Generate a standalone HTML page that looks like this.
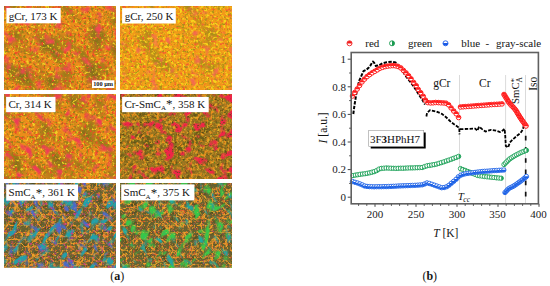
<!DOCTYPE html>
<html><head><meta charset="utf-8"><style>
html,body{margin:0;padding:0;background:#fff;}
body{width:550px;height:286px;position:relative;overflow:hidden;font-family:"Liberation Serif",serif;}
.chart{position:absolute;left:0;top:0;}
.pn{position:absolute;overflow:hidden;}
.lb{position:absolute;background:#fff;color:#222;font-size:10.5px;line-height:15px;padding:0 2px;white-space:nowrap;}
.t{position:absolute;white-space:nowrap;color:#222;}
</style></head><body>
<svg class="pn" style="left:4px;top:5.6px" width="112.3" height="84.2"><defs><filter id="f0_0" filterUnits="userSpaceOnUse" x="-100" y="-100" width="320" height="300" color-interpolation-filters="sRGB"><feTurbulence type="fractalNoise" baseFrequency="0.07 0.04" numOctaves="2" seed="3"/><feColorMatrix values="0 0 0 0 0.525 0 0 0 0 0.439 0 0 0 0 0.102 3.5 0 0 0 -1.610"/></filter><filter id="f0_1" filterUnits="userSpaceOnUse" x="-100" y="-100" width="320" height="300" color-interpolation-filters="sRGB"><feTurbulence type="fractalNoise" baseFrequency="0.35" numOctaves="2" seed="4"/><feColorMatrix values="0 0 0 0 0.949 0 0 0 0 0.816 0 0 0 0 0.141 0 5.0 0 0 -2.700"/></filter><filter id="f0_2" filterUnits="userSpaceOnUse" x="-100" y="-100" width="320" height="300" color-interpolation-filters="sRGB"><feTurbulence type="fractalNoise" baseFrequency="0.35" numOctaves="2" seed="5"/><feColorMatrix values="0 0 0 0 0.941 0 0 0 0 0.267 0 0 0 0 0.157 0 0 5.0 0 -2.800"/></filter><filter id="f0_3" filterUnits="userSpaceOnUse" x="-100" y="-100" width="320" height="300" color-interpolation-filters="sRGB"><feTurbulence type="fractalNoise" baseFrequency="0.4" numOctaves="2" seed="6"/><feColorMatrix values="0 0 0 0 0.604 0 0 0 0 0.502 0 0 0 0 0.094 5.0 0 0 0 -2.600"/></filter><filter id="f0_4" filterUnits="userSpaceOnUse" x="-100" y="-100" width="320" height="300" color-interpolation-filters="sRGB"><feTurbulence type="fractalNoise" baseFrequency="0.1" numOctaves="2" seed="7"/><feColorMatrix values="0 0 0 0 0.941 0 0 0 0 0.282 0 0 0 0 0.314 0 0 4.5 0 -2.610"/></filter></defs><rect width="100%" height="100%" fill="#ec8c1a"/><rect x="-100" y="-100" width="320" height="300" filter="url(#f0_0)" transform="rotate(-45 56 42)"/><rect width="100%" height="100%" filter="url(#f0_1)"/><rect width="100%" height="100%" filter="url(#f0_2)"/><rect width="100%" height="100%" filter="url(#f0_3)"/><rect width="100%" height="100%" filter="url(#f0_4)"/></svg><svg class="pn" style="left:120px;top:5.6px" width="112" height="84.2"><defs><filter id="f1_0" filterUnits="userSpaceOnUse" x="-100" y="-100" width="320" height="300" color-interpolation-filters="sRGB"><feTurbulence type="fractalNoise" baseFrequency="0.07 0.04" numOctaves="2" seed="13"/><feColorMatrix values="0 0 0 0 0.627 0 0 0 0 0.533 0 0 0 0 0.094 3.5 0 0 0 -1.820"/></filter><filter id="f1_1" filterUnits="userSpaceOnUse" x="-100" y="-100" width="320" height="300" color-interpolation-filters="sRGB"><feTurbulence type="fractalNoise" baseFrequency="0.35" numOctaves="2" seed="14"/><feColorMatrix values="0 0 0 0 0.965 0 0 0 0 0.831 0 0 0 0 0.110 0 5.0 0 0 -2.500"/></filter><filter id="f1_2" filterUnits="userSpaceOnUse" x="-100" y="-100" width="320" height="300" color-interpolation-filters="sRGB"><feTurbulence type="fractalNoise" baseFrequency="0.35" numOctaves="2" seed="15"/><feColorMatrix values="0 0 0 0 0.957 0 0 0 0 0.353 0 0 0 0 0.188 0 0 5.0 0 -2.900"/></filter><filter id="f1_3" filterUnits="userSpaceOnUse" x="-100" y="-100" width="320" height="300" color-interpolation-filters="sRGB"><feTurbulence type="fractalNoise" baseFrequency="0.4" numOctaves="2" seed="16"/><feColorMatrix values="0 0 0 0 0.659 0 0 0 0 0.565 0 0 0 0 0.094 5.0 0 0 0 -2.800"/></filter><filter id="f1_4" filterUnits="userSpaceOnUse" x="-100" y="-100" width="320" height="300" color-interpolation-filters="sRGB"><feTurbulence type="fractalNoise" baseFrequency="0.1" numOctaves="2" seed="17"/><feColorMatrix values="0 0 0 0 0.957 0 0 0 0 0.416 0 0 0 0 0.314 0 0 4.5 0 -2.700"/></filter></defs><rect width="100%" height="100%" fill="#f29a18"/><rect x="-100" y="-100" width="320" height="300" filter="url(#f1_0)" transform="rotate(-45 56 42)"/><rect width="100%" height="100%" filter="url(#f1_1)"/><rect width="100%" height="100%" filter="url(#f1_2)"/><rect width="100%" height="100%" filter="url(#f1_3)"/><rect width="100%" height="100%" filter="url(#f1_4)"/></svg><svg class="pn" style="left:4px;top:94px" width="112.3" height="85"><defs><filter id="f2_0" filterUnits="userSpaceOnUse" x="-100" y="-100" width="320" height="300" color-interpolation-filters="sRGB"><feTurbulence type="fractalNoise" baseFrequency="0.07 0.04" numOctaves="2" seed="23"/><feColorMatrix values="0 0 0 0 0.525 0 0 0 0 0.439 0 0 0 0 0.102 3.5 0 0 0 -1.645"/></filter><filter id="f2_1" filterUnits="userSpaceOnUse" x="-100" y="-100" width="320" height="300" color-interpolation-filters="sRGB"><feTurbulence type="fractalNoise" baseFrequency="0.35" numOctaves="2" seed="24"/><feColorMatrix values="0 0 0 0 0.949 0 0 0 0 0.816 0 0 0 0 0.141 0 5.0 0 0 -2.700"/></filter><filter id="f2_2" filterUnits="userSpaceOnUse" x="-100" y="-100" width="320" height="300" color-interpolation-filters="sRGB"><feTurbulence type="fractalNoise" baseFrequency="0.35" numOctaves="2" seed="25"/><feColorMatrix values="0 0 0 0 0.941 0 0 0 0 0.267 0 0 0 0 0.157 0 0 5.0 0 -2.800"/></filter><filter id="f2_3" filterUnits="userSpaceOnUse" x="-100" y="-100" width="320" height="300" color-interpolation-filters="sRGB"><feTurbulence type="fractalNoise" baseFrequency="0.4" numOctaves="2" seed="26"/><feColorMatrix values="0 0 0 0 0.604 0 0 0 0 0.502 0 0 0 0 0.094 5.0 0 0 0 -2.600"/></filter><filter id="f2_4" filterUnits="userSpaceOnUse" x="-100" y="-100" width="320" height="300" color-interpolation-filters="sRGB"><feTurbulence type="fractalNoise" baseFrequency="0.1" numOctaves="2" seed="27"/><feColorMatrix values="0 0 0 0 0.941 0 0 0 0 0.227 0 0 0 0 0.345 0 0 4.5 0 -2.565"/></filter></defs><rect width="100%" height="100%" fill="#ec8c1a"/><rect x="-100" y="-100" width="320" height="300" filter="url(#f2_0)" transform="rotate(-45 56 42)"/><rect width="100%" height="100%" filter="url(#f2_1)"/><rect width="100%" height="100%" filter="url(#f2_2)"/><rect width="100%" height="100%" filter="url(#f2_3)"/><rect width="100%" height="100%" filter="url(#f2_4)"/></svg><svg class="pn" style="left:120px;top:94px" width="112" height="85"><defs><filter id="f3_0" filterUnits="userSpaceOnUse" x="-100" y="-100" width="320" height="300" color-interpolation-filters="sRGB"><feTurbulence type="fractalNoise" baseFrequency="0.09 0.05" numOctaves="2" seed="33"/><feColorMatrix values="0 0 0 0 0.416 0 0 0 0 0.361 0 0 0 0 0.094 4.0 0 0 0 -1.920"/></filter><filter id="f3_1" filterUnits="userSpaceOnUse" x="-100" y="-100" width="320" height="300" color-interpolation-filters="sRGB"><feTurbulence type="fractalNoise" baseFrequency="0.3" numOctaves="2" seed="38"/><feColorMatrix values="0 0 0 0 0.925 0 0 0 0 0.565 0 0 0 0 0.110 0 0 4.0 0 -1.880"/></filter><filter id="f3_2" filterUnits="userSpaceOnUse" x="-100" y="-100" width="320" height="300" color-interpolation-filters="sRGB"><feTurbulence type="fractalNoise" baseFrequency="0.4" numOctaves="2" seed="34"/><feColorMatrix values="0 0 0 0 0.878 0 0 0 0 0.722 0 0 0 0 0.173 0 4.0 0 0 -2.200"/></filter><filter id="f3_3" filterUnits="userSpaceOnUse" x="-100" y="-100" width="320" height="300" color-interpolation-filters="sRGB"><feTurbulence type="fractalNoise" baseFrequency="0.11" numOctaves="2" seed="35"/><feColorMatrix values="0 0 0 0 0.941 0 0 0 0 0.141 0 0 0 0 0.282 0 0 6.0 0 -3.270"/></filter><filter id="f3_4" filterUnits="userSpaceOnUse" x="-100" y="-100" width="320" height="300" color-interpolation-filters="sRGB"><feTurbulence type="fractalNoise" baseFrequency="0.4" numOctaves="2" seed="36"/><feColorMatrix values="0 0 0 0 0.353 0 0 0 0 0.290 0 0 0 0 0.078 4.0 0 0 0 -2.280"/></filter><filter id="f3_5" filterUnits="userSpaceOnUse" x="-100" y="-100" width="320" height="300" color-interpolation-filters="sRGB"><feTurbulence type="fractalNoise" baseFrequency="0.5" numOctaves="1" seed="37"/><feColorMatrix values="0 0 0 0 0.290 0 0 0 0 0.541 0 0 0 0 0.125 0 4.0 0 0 -2.560"/></filter></defs><rect width="100%" height="100%" fill="#9a7420"/><rect x="-100" y="-100" width="320" height="300" filter="url(#f3_0)" transform="rotate(45 56 42)"/><rect width="100%" height="100%" filter="url(#f3_1)"/><rect width="100%" height="100%" filter="url(#f3_2)"/><rect width="100%" height="100%" filter="url(#f3_3)"/><rect width="100%" height="100%" filter="url(#f3_4)"/><rect width="100%" height="100%" filter="url(#f3_5)"/></svg><svg class="pn" style="left:4px;top:183px" width="112.3" height="84.7"><defs><filter id="f4_0" filterUnits="userSpaceOnUse" x="-100" y="-100" width="320" height="300" color-interpolation-filters="sRGB"><feTurbulence type="fractalNoise" baseFrequency="0.3 0.08" numOctaves="2" seed="49"/><feColorMatrix values="0 0 0 0 0.306 0 0 0 0 0.290 0 0 0 0 0.110 4.0 0 0 0 -2.200"/></filter><filter id="f4_1" filterUnits="userSpaceOnUse" x="-100" y="-100" width="320" height="300" color-interpolation-filters="sRGB"><feTurbulence type="turbulence" baseFrequency="0.14" numOctaves="3" seed="43"/><feColorMatrix values="0 0 0 0 0.941 0 0 0 0 0.627 0 0 0 0 0.157 -6.0 0 0 0 1.560"/></filter><filter id="f4_2" filterUnits="userSpaceOnUse" x="-100" y="-100" width="320" height="300" color-interpolation-filters="sRGB"><feTurbulence type="turbulence" baseFrequency="0.28" numOctaves="2" seed="42"/><feColorMatrix values="0 0 0 0 0.941 0 0 0 0 0.541 0 0 0 0 0.157 0 0 -6.0 0 0.960"/></filter><filter id="f4_3" filterUnits="userSpaceOnUse" x="-100" y="-100" width="320" height="300" color-interpolation-filters="sRGB"><feTurbulence type="turbulence" baseFrequency="0.18" numOctaves="3" seed="41"/><feColorMatrix values="0 0 0 0 0.910 0 0 0 0 0.314 0 0 0 0 0.173 0 -6.0 0 0 0.960"/></filter><filter id="f4_4" filterUnits="userSpaceOnUse" x="-100" y="-100" width="320" height="300" color-interpolation-filters="sRGB"><feTurbulence type="fractalNoise" baseFrequency="0.16 0.08" numOctaves="2" seed="44"/><feColorMatrix values="0 0 0 0 0.133 0 0 0 0 0.627 0 0 0 0 0.667 0 6.0 0 0 -3.240"/></filter><filter id="f4_5" filterUnits="userSpaceOnUse" x="-100" y="-100" width="320" height="300" color-interpolation-filters="sRGB"><feTurbulence type="fractalNoise" baseFrequency="0.16 0.08" numOctaves="2" seed="45"/><feColorMatrix values="0 0 0 0 0.290 0 0 0 0 0.416 0 0 0 0 0.784 0 0 6.0 0 -3.540"/></filter><filter id="f4_6" filterUnits="userSpaceOnUse" x="-100" y="-100" width="320" height="300" color-interpolation-filters="sRGB"><feTurbulence type="fractalNoise" baseFrequency="0.3" numOctaves="2" seed="46"/><feColorMatrix values="0 0 0 0 0.784 0 0 0 0 0.235 0 0 0 0 0.533 4.0 0 0 0 -2.400"/></filter><filter id="f4_7" filterUnits="userSpaceOnUse" x="-100" y="-100" width="320" height="300" color-interpolation-filters="sRGB"><feTurbulence type="fractalNoise" baseFrequency="0.45" numOctaves="1" seed="47"/><feColorMatrix values="0 0 0 0 0.941 0 0 0 0 0.753 0 0 0 0 0.188 0 4.0 0 0 -2.480"/></filter></defs><rect width="100%" height="100%" fill="#666230"/><rect x="-100" y="-100" width="320" height="300" filter="url(#f4_0)" transform="rotate(60 56 42)"/><rect width="100%" height="100%" filter="url(#f4_1)"/><rect width="100%" height="100%" filter="url(#f4_2)"/><rect width="100%" height="100%" filter="url(#f4_3)"/><rect x="-100" y="-100" width="320" height="300" filter="url(#f4_4)" transform="rotate(35 56 42)"/><rect x="-100" y="-100" width="320" height="300" filter="url(#f4_5)" transform="rotate(-30 56 42)"/><rect width="100%" height="100%" filter="url(#f4_6)"/><rect width="100%" height="100%" filter="url(#f4_7)"/></svg><svg class="pn" style="left:120px;top:183px" width="112" height="84.7"><defs><filter id="f5_0" filterUnits="userSpaceOnUse" x="-100" y="-100" width="320" height="300" color-interpolation-filters="sRGB"><feTurbulence type="fractalNoise" baseFrequency="0.3 0.08" numOctaves="2" seed="59"/><feColorMatrix values="0 0 0 0 0.306 0 0 0 0 0.290 0 0 0 0 0.110 4.0 0 0 0 -2.200"/></filter><filter id="f5_1" filterUnits="userSpaceOnUse" x="-100" y="-100" width="320" height="300" color-interpolation-filters="sRGB"><feTurbulence type="turbulence" baseFrequency="0.14" numOctaves="3" seed="53"/><feColorMatrix values="0 0 0 0 0.941 0 0 0 0 0.627 0 0 0 0 0.157 -6.0 0 0 0 1.560"/></filter><filter id="f5_2" filterUnits="userSpaceOnUse" x="-100" y="-100" width="320" height="300" color-interpolation-filters="sRGB"><feTurbulence type="turbulence" baseFrequency="0.28" numOctaves="2" seed="52"/><feColorMatrix values="0 0 0 0 0.941 0 0 0 0 0.541 0 0 0 0 0.157 0 0 -6.0 0 0.960"/></filter><filter id="f5_3" filterUnits="userSpaceOnUse" x="-100" y="-100" width="320" height="300" color-interpolation-filters="sRGB"><feTurbulence type="turbulence" baseFrequency="0.18" numOctaves="3" seed="51"/><feColorMatrix values="0 0 0 0 0.910 0 0 0 0 0.314 0 0 0 0 0.173 0 -6.0 0 0 0.960"/></filter><filter id="f5_4" filterUnits="userSpaceOnUse" x="-100" y="-100" width="320" height="300" color-interpolation-filters="sRGB"><feTurbulence type="fractalNoise" baseFrequency="0.14 0.08" numOctaves="2" seed="54"/><feColorMatrix values="0 0 0 0 0.220 0 0 0 0 0.784 0 0 0 0 0.282 0 6.0 0 0 -3.270"/></filter><filter id="f5_5" filterUnits="userSpaceOnUse" x="-100" y="-100" width="320" height="300" color-interpolation-filters="sRGB"><feTurbulence type="fractalNoise" baseFrequency="0.16 0.08" numOctaves="2" seed="55"/><feColorMatrix values="0 0 0 0 0.125 0 0 0 0 0.659 0 0 0 0 0.627 0 0 6.0 0 -3.660"/></filter><filter id="f5_6" filterUnits="userSpaceOnUse" x="-100" y="-100" width="320" height="300" color-interpolation-filters="sRGB"><feTurbulence type="fractalNoise" baseFrequency="0.4" numOctaves="2" seed="56"/><feColorMatrix values="0 0 0 0 0.690 0 0 0 0 0.314 0 0 0 0 0.439 4.0 0 0 0 -2.560"/></filter><filter id="f5_7" filterUnits="userSpaceOnUse" x="-100" y="-100" width="320" height="300" color-interpolation-filters="sRGB"><feTurbulence type="fractalNoise" baseFrequency="0.45" numOctaves="1" seed="57"/><feColorMatrix values="0 0 0 0 0.941 0 0 0 0 0.753 0 0 0 0 0.188 0 4.0 0 0 -2.480"/></filter></defs><rect width="100%" height="100%" fill="#666230"/><rect x="-100" y="-100" width="320" height="300" filter="url(#f5_0)" transform="rotate(60 56 42)"/><rect width="100%" height="100%" filter="url(#f5_1)"/><rect width="100%" height="100%" filter="url(#f5_2)"/><rect width="100%" height="100%" filter="url(#f5_3)"/><rect x="-100" y="-100" width="320" height="300" filter="url(#f5_4)" transform="rotate(35 56 42)"/><rect x="-100" y="-100" width="320" height="300" filter="url(#f5_5)" transform="rotate(-30 56 42)"/><rect width="100%" height="100%" filter="url(#f5_6)"/><rect width="100%" height="100%" filter="url(#f5_7)"/></svg>
<svg class="chart" width="550" height="286" viewBox="0 0 550 286"><defs>
<g id="mr"><circle r="2.3" fill="#fff" stroke="#ff1c1c" stroke-width="1"/><path d="M-2.3,0.3A2.3,2.3 0 0 1 2.3,0.3Z" fill="#ff1c1c"/></g>
<g id="mg"><circle r="2.2" fill="#fff" stroke="#22a45c" stroke-width="0.9"/><path d="M0,-2.2A2.2,2.2 0 0 1 0,2.2Z" fill="#22a45c"/></g>
<g id="mrL"><circle r="2.5" fill="#fff" stroke="#f01c1c" stroke-width="0.9"/><path d="M-2.5,0.3A2.5,2.5 0 0 1 2.5,0.3Z" fill="#f01c1c"/></g>
<g id="mgL"><circle r="2.5" fill="#fff" stroke="#1a9a50" stroke-width="0.9"/><path d="M0,-2.5A2.5,2.5 0 0 1 0,2.5Z" fill="#1a9a50"/></g>
<g id="mbL"><circle r="2.5" fill="#fff" stroke="#1a5ae6" stroke-width="0.9"/><path d="M-2.5,-0.3A2.5,2.5 0 0 0 2.5,-0.3Z" fill="#1a5ae6"/></g>
<g id="mb"><circle r="2.2" fill="#fff" stroke="#1a60e6" stroke-width="0.9"/><path d="M-2.2,-0.3A2.2,2.2 0 0 0 2.2,-0.3Z" fill="#1a60e6"/></g>
</defs><line x1="459.5" y1="75" x2="459.5" y2="191" stroke="#d0d0d0" stroke-width="0.8"/><line x1="505.6" y1="75" x2="505.6" y2="203.5" stroke="#d0d0d0" stroke-width="0.8"/><line x1="525.5" y1="75" x2="525.5" y2="203.5" stroke="#d0d0d0" stroke-width="0.8"/><g stroke="#444" stroke-width="1"><line x1="358.60" y1="203.8" x2="358.60" y2="205.8" /><line x1="366.80" y1="203.8" x2="366.80" y2="205.8" /><line x1="375.00" y1="203.8" x2="375.00" y2="206.8" /><line x1="383.20" y1="203.8" x2="383.20" y2="205.8" /><line x1="391.40" y1="203.8" x2="391.40" y2="205.8" /><line x1="399.60" y1="203.8" x2="399.60" y2="205.8" /><line x1="407.80" y1="203.8" x2="407.80" y2="205.8" /><line x1="416.00" y1="203.8" x2="416.00" y2="206.8" /><line x1="424.20" y1="203.8" x2="424.20" y2="205.8" /><line x1="432.40" y1="203.8" x2="432.40" y2="205.8" /><line x1="440.60" y1="203.8" x2="440.60" y2="205.8" /><line x1="448.80" y1="203.8" x2="448.80" y2="205.8" /><line x1="457.00" y1="203.8" x2="457.00" y2="206.8" /><line x1="465.20" y1="203.8" x2="465.20" y2="205.8" /><line x1="473.40" y1="203.8" x2="473.40" y2="205.8" /><line x1="481.60" y1="203.8" x2="481.60" y2="205.8" /><line x1="489.80" y1="203.8" x2="489.80" y2="205.8" /><line x1="498.00" y1="203.8" x2="498.00" y2="206.8" /><line x1="506.20" y1="203.8" x2="506.20" y2="205.8" /><line x1="514.40" y1="203.8" x2="514.40" y2="205.8" /><line x1="522.60" y1="203.8" x2="522.60" y2="205.8" /><line x1="530.80" y1="203.8" x2="530.80" y2="205.8" /><line x1="539.00" y1="203.8" x2="539.00" y2="206.8" /><line x1="351.2" y1="197.20" x2="347.7" y2="197.20" /><line x1="351.2" y1="183.40" x2="349.2" y2="183.40" /><line x1="351.2" y1="169.60" x2="347.7" y2="169.60" /><line x1="351.2" y1="155.80" x2="349.2" y2="155.80" /><line x1="351.2" y1="142.00" x2="347.7" y2="142.00" /><line x1="351.2" y1="128.20" x2="349.2" y2="128.20" /><line x1="351.2" y1="114.40" x2="347.7" y2="114.40" /><line x1="351.2" y1="100.60" x2="349.2" y2="100.60" /><line x1="351.2" y1="86.80" x2="347.7" y2="86.80" /><line x1="351.2" y1="73.00" x2="349.2" y2="73.00" /><line x1="351.2" y1="59.20" x2="347.7" y2="59.20" /></g><polyline points="353.3,114.0 354.5,105.0 355.5,99.0 357.0,89.0 359.4,80.3 361.9,74.7 363.6,71.0 366.4,69.8 368.8,67.5 370.5,65.5 371.8,63.0 373.0,61.6 374.0,62.5 375.8,66.0 378.7,65.5 382.4,63.3 386.7,62.2 391.8,61.8 395.5,62.5 397.6,64.7 400.5,67.6 402.7,70.9 405.0,75.0 408.0,79.0 410.5,82.0 413.0,85.5 416.0,90.0 418.5,94.0 420.5,97.0 422.5,100.0 425.0,104.5" fill="none" stroke="#000" stroke-width="2.0" stroke-dasharray="3.4 1.4"/><polyline points="426.4,116.5 427.0,113.0 430.0,110.2 436.4,111.5 441.8,113.8 446.4,117.5 451.0,122.0 457.3,126.5 459.3,128.0 459.5,134.4" fill="none" stroke="#000" stroke-width="1.8" stroke-dasharray="3.4 1.4"/><polyline points="460.0,129.2 475.2,128.6 477.3,130.7 479.1,126.6 481.8,128.9 485.5,131.6 490.9,129.8 496.4,130.7 500.0,132.1 501.8,131.2 504.5,128.9 505.2,135.0 505.8,146.0 508.1,147.5 509.9,142.4 513.5,138.8 517.0,135.8 520.6,132.9 523.0,129.3 523.6,126.3" fill="none" stroke="#000" stroke-width="1.8" stroke-dasharray="3.4 1.4"/><polyline points="525.7,135.8 525.7,197.5" fill="none" stroke="#111" stroke-width="1.7" stroke-dasharray="4.6 6.6"/><use href="#mg" x="353.0" y="175.5"/><use href="#mg" x="355.4" y="175.1"/><use href="#mg" x="357.7" y="174.7"/><use href="#mg" x="360.1" y="174.3"/><use href="#mg" x="362.5" y="174.0"/><use href="#mg" x="364.9" y="173.7"/><use href="#mg" x="367.2" y="173.3"/><use href="#mg" x="369.6" y="172.8"/><use href="#mg" x="371.9" y="172.2"/><use href="#mg" x="374.2" y="171.6"/><use href="#mg" x="376.6" y="170.6"/><use href="#mg" x="379.0" y="169.1"/><use href="#mg" x="381.4" y="168.4"/><use href="#mg" x="383.8" y="168.2"/><use href="#mg" x="386.2" y="168.0"/><use href="#mg" x="388.6" y="168.1"/><use href="#mg" x="391.0" y="168.2"/><use href="#mg" x="393.4" y="168.3"/><use href="#mg" x="395.8" y="168.4"/><use href="#mg" x="398.2" y="168.3"/><use href="#mg" x="400.6" y="168.2"/><use href="#mg" x="403.0" y="168.2"/><use href="#mg" x="405.4" y="168.1"/><use href="#mg" x="407.8" y="168.0"/><use href="#mg" x="410.2" y="167.9"/><use href="#mg" x="412.5" y="167.9"/><use href="#mg" x="414.9" y="167.8"/><use href="#mg" x="417.3" y="167.7"/><use href="#mg" x="419.7" y="167.6"/><use href="#mg" x="422.1" y="167.5"/><use href="#mg" x="424.6" y="166.6"/><use href="#mg" x="427.0" y="165.8"/><use href="#mg" x="429.4" y="165.4"/><use href="#mg" x="431.8" y="165.0"/><use href="#mg" x="434.1" y="164.6"/><use href="#mg" x="436.5" y="164.1"/><use href="#mg" x="439.0" y="163.3"/><use href="#mg" x="441.4" y="162.6"/><use href="#mg" x="443.9" y="161.8"/><use href="#mg" x="446.4" y="160.9"/><use href="#mg" x="448.8" y="160.1"/><use href="#mg" x="451.3" y="159.2"/><use href="#mg" x="453.7" y="158.3"/><use href="#mg" x="456.2" y="157.4"/><use href="#mg" x="458.6" y="156.4"/><use href="#mg" x="460.5" y="168.6"/><use href="#mg" x="462.9" y="169.6"/><use href="#mg" x="465.3" y="170.5"/><use href="#mg" x="467.8" y="171.5"/><use href="#mg" x="470.2" y="172.4"/><use href="#mg" x="472.6" y="173.4"/><use href="#mg" x="475.0" y="174.4"/><use href="#mg" x="477.4" y="175.4"/><use href="#mg" x="479.7" y="175.8"/><use href="#mg" x="482.1" y="176.1"/><use href="#mg" x="484.5" y="176.5"/><use href="#mg" x="486.9" y="176.8"/><use href="#mg" x="489.3" y="177.0"/><use href="#mg" x="491.7" y="177.3"/><use href="#mg" x="494.0" y="177.5"/><use href="#mg" x="496.4" y="177.8"/><use href="#mg" x="498.8" y="178.0"/><use href="#mg" x="501.2" y="178.2"/><use href="#mg" x="504.0" y="164.5"/><use href="#mg" x="505.4" y="163.1"/><use href="#mg" x="506.8" y="161.7"/><use href="#mg" x="508.2" y="160.3"/><use href="#mg" x="509.7" y="158.9"/><use href="#mg" x="511.4" y="157.8"/><use href="#mg" x="513.1" y="156.7"/><use href="#mg" x="514.7" y="155.7"/><use href="#mg" x="516.5" y="154.7"/><use href="#mg" x="518.3" y="153.8"/><use href="#mg" x="520.1" y="152.9"/><use href="#mg" x="521.9" y="152.1"/><use href="#mg" x="523.8" y="151.4"/><use href="#mg" x="525.6" y="150.6"/><use href="#mg" x="526.4" y="150.3"/><use href="#mb" x="352.5" y="181.5"/><use href="#mb" x="355.0" y="182.3"/><use href="#mb" x="357.5" y="183.0"/><use href="#mb" x="359.9" y="183.9"/><use href="#mb" x="362.3" y="184.9"/><use href="#mb" x="364.7" y="186.0"/><use href="#mb" x="367.0" y="186.4"/><use href="#mb" x="369.4" y="186.6"/><use href="#mb" x="371.8" y="186.7"/><use href="#mb" x="374.2" y="186.8"/><use href="#mb" x="376.6" y="186.7"/><use href="#mb" x="379.0" y="186.7"/><use href="#mb" x="381.4" y="186.7"/><use href="#mb" x="383.8" y="186.6"/><use href="#mb" x="386.2" y="186.6"/><use href="#mb" x="388.6" y="186.5"/><use href="#mb" x="391.0" y="186.4"/><use href="#mb" x="393.4" y="186.3"/><use href="#mb" x="395.8" y="186.2"/><use href="#mb" x="398.2" y="186.0"/><use href="#mb" x="400.6" y="185.9"/><use href="#mb" x="403.0" y="185.8"/><use href="#mb" x="405.4" y="185.7"/><use href="#mb" x="407.8" y="185.6"/><use href="#mb" x="410.2" y="185.5"/><use href="#mb" x="412.6" y="185.4"/><use href="#mb" x="415.0" y="185.3"/><use href="#mb" x="417.4" y="185.2"/><use href="#mb" x="419.8" y="185.0"/><use href="#mb" x="422.2" y="184.8"/><use href="#mb" x="424.6" y="184.0"/><use href="#mb" x="427.0" y="182.9"/><use href="#mb" x="429.4" y="183.5"/><use href="#mb" x="431.9" y="184.3"/><use href="#mb" x="434.4" y="185.2"/><use href="#mb" x="436.8" y="186.0"/><use href="#mb" x="439.3" y="186.9"/><use href="#mb" x="441.7" y="187.7"/><use href="#mb" x="444.2" y="187.5"/><use href="#mb" x="446.7" y="186.7"/><use href="#mb" x="449.0" y="185.2"/><use href="#mb" x="451.3" y="183.3"/><use href="#mb" x="453.6" y="181.4"/><use href="#mb" x="456.1" y="179.3"/><use href="#mb" x="458.4" y="176.8"/><use href="#mb" x="460.9" y="175.2"/><use href="#mb" x="463.3" y="174.3"/><use href="#mb" x="465.6" y="173.7"/><use href="#mb" x="468.0" y="173.3"/><use href="#mb" x="470.3" y="173.0"/><use href="#mb" x="472.7" y="172.7"/><use href="#mb" x="475.1" y="172.4"/><use href="#mb" x="477.5" y="172.1"/><use href="#mb" x="479.9" y="171.8"/><use href="#mb" x="482.3" y="171.5"/><use href="#mb" x="484.6" y="171.3"/><use href="#mb" x="487.0" y="171.2"/><use href="#mb" x="489.4" y="171.0"/><use href="#mb" x="491.8" y="170.8"/><use href="#mb" x="494.2" y="170.6"/><use href="#mb" x="496.6" y="170.5"/><use href="#mb" x="499.0" y="170.3"/><use href="#mb" x="501.4" y="170.2"/><use href="#mb" x="503.8" y="170.0"/><use href="#mb" x="505.0" y="192.5"/><use href="#mb" x="506.4" y="191.0"/><use href="#mb" x="507.7" y="189.6"/><use href="#mb" x="509.2" y="188.3"/><use href="#mb" x="511.0" y="187.4"/><use href="#mb" x="512.8" y="186.5"/><use href="#mb" x="514.5" y="185.5"/><use href="#mb" x="516.2" y="184.4"/><use href="#mb" x="517.8" y="183.2"/><use href="#mb" x="519.4" y="182.1"/><use href="#mb" x="521.0" y="180.9"/><use href="#mb" x="522.6" y="179.7"/><use href="#mb" x="524.2" y="178.4"/><use href="#mb" x="525.7" y="177.1"/><use href="#mb" x="526.4" y="176.5"/><use href="#mr" x="352.5" y="96.0"/><use href="#mr" x="354.8" y="92.5"/><use href="#mr" x="357.2" y="89.0"/><use href="#mr" x="359.6" y="85.4"/><use href="#mr" x="362.0" y="81.9"/><use href="#mr" x="364.5" y="79.1"/><use href="#mr" x="367.1" y="76.5"/><use href="#mr" x="369.6" y="74.6"/><use href="#mr" x="372.2" y="72.8"/><use href="#mr" x="374.8" y="71.3"/><use href="#mr" x="377.4" y="69.8"/><use href="#mr" x="380.0" y="68.2"/><use href="#mr" x="382.6" y="67.3"/><use href="#mr" x="385.1" y="66.6"/><use href="#mr" x="387.7" y="66.1"/><use href="#mr" x="390.3" y="65.8"/><use href="#mr" x="392.9" y="65.6"/><use href="#mr" x="395.5" y="65.8"/><use href="#mr" x="398.1" y="66.5"/><use href="#mr" x="400.8" y="67.9"/><use href="#mr" x="403.4" y="70.4"/><use href="#mr" x="406.0" y="72.9"/><use href="#mr" x="408.5" y="75.7"/><use href="#mr" x="411.0" y="78.8"/><use href="#mr" x="413.6" y="82.4"/><use href="#mr" x="416.2" y="85.7"/><use href="#mr" x="418.2" y="89.4"/><use href="#mr" x="420.7" y="92.7"/><use href="#mr" x="423.2" y="96.3"/><use href="#mr" x="425.4" y="100.1"/><use href="#mr" x="427.9" y="102.6"/><use href="#mr" x="430.5" y="102.9"/><use href="#mr" x="433.1" y="102.8"/><use href="#mr" x="435.7" y="102.5"/><use href="#mr" x="438.3" y="102.6"/><use href="#mr" x="440.8" y="102.8"/><use href="#mr" x="443.4" y="102.9"/><use href="#mr" x="446.0" y="103.2"/><use href="#mr" x="448.6" y="104.8"/><use href="#mr" x="451.1" y="107.9"/><use href="#mr" x="453.7" y="111.0"/><use href="#mr" x="456.2" y="113.8"/><use href="#mr" x="458.6" y="117.5"/><use href="#mr" x="460.5" y="107.0"/><use href="#mr" x="463.1" y="106.8"/><use href="#mr" x="465.7" y="106.6"/><use href="#mr" x="468.3" y="106.4"/><use href="#mr" x="470.9" y="106.2"/><use href="#mr" x="473.5" y="106.0"/><use href="#mr" x="476.1" y="105.8"/><use href="#mr" x="478.6" y="105.6"/><use href="#mr" x="481.2" y="105.4"/><use href="#mr" x="483.8" y="105.2"/><use href="#mr" x="486.4" y="105.0"/><use href="#mr" x="489.0" y="104.8"/><use href="#mr" x="491.6" y="104.6"/><use href="#mr" x="494.2" y="104.4"/><use href="#mr" x="496.8" y="104.3"/><use href="#mr" x="499.4" y="104.1"/><use href="#mr" x="502.0" y="103.9"/><use href="#mr" x="504.0" y="94.5"/><use href="#mr" x="505.0" y="96.0"/><use href="#mr" x="505.9" y="97.6"/><use href="#mr" x="506.9" y="99.1"/><use href="#mr" x="507.8" y="100.6"/><use href="#mr" x="508.7" y="102.2"/><use href="#mr" x="509.9" y="103.6"/><use href="#mr" x="511.0" y="105.0"/><use href="#mr" x="512.2" y="106.2"/><use href="#mr" x="513.5" y="107.5"/><use href="#mr" x="514.7" y="108.9"/><use href="#mr" x="515.8" y="110.3"/><use href="#mr" x="516.8" y="111.8"/><use href="#mr" x="517.6" y="113.4"/><use href="#mr" x="518.6" y="114.9"/><use href="#mr" x="519.5" y="116.5"/><use href="#mr" x="520.5" y="118.0"/><use href="#mr" x="521.5" y="119.5"/><use href="#mr" x="522.5" y="121.0"/><use href="#mr" x="523.6" y="122.4"/><use href="#mr" x="524.6" y="123.9"/><use href="#mr" x="525.6" y="125.4"/><use href="#mr" x="526.0" y="126.0"/><rect x="351.2" y="52.5" width="187.2" height="151.3" fill="none" stroke="#606060" stroke-width="1.6"/><g font-family="Liberation Serif" font-size="11" fill="#1a1a1a"><text x="346" y="63.0" text-anchor="end">1</text><text x="346" y="90.6" text-anchor="end">0.8</text><text x="346" y="118.2" text-anchor="end">0.6</text><text x="346" y="145.8" text-anchor="end">0.4</text><text x="346" y="173.4" text-anchor="end">0.2</text><text x="346" y="201.0" text-anchor="end">0</text><text x="375" y="218.2" text-anchor="middle">200</text><text x="416" y="218.2" text-anchor="middle">250</text><text x="457" y="218.2" text-anchor="middle">300</text><text x="497.5" y="218.2" text-anchor="middle">350</text><text x="538.5" y="218.2" text-anchor="middle">400</text></g><g font-family="Liberation Serif" fill="#141414"><rect x="6.4" y="8" width="54.3" height="15.3" fill="#fff"/><text x="8.7" y="19.5" font-size="11">gCr, 173 K</text><rect x="122.1" y="8.1" width="53.7" height="15.4" fill="#fff"/><text x="124.7" y="19.5" font-size="11">gCr, 250 K</text><rect x="6.1" y="96.9" width="49.4" height="15.3" fill="#fff"/><text x="8.5" y="108.2" font-size="11">Cr, 314 K</text><rect x="122.1" y="96.9" width="86.6" height="15.3" fill="#fff"/><text x="124.5" y="108.2" font-size="11">Cr-SmC<tspan font-size="7" dy="2.2">A</tspan><tspan dy="-2" font-size="13">*</tspan><tspan dy="-0.2">, </tspan>358 K</text><rect x="6.2" y="184.5" width="71.8" height="16.1" fill="#fff"/><text x="8.6" y="196.3" font-size="11">SmC<tspan font-size="7" dy="2.2">A</tspan><tspan dy="-2" font-size="13">*</tspan><tspan dy="-0.2">, </tspan>361 K</text><rect x="121.2" y="184.4" width="73.2" height="16.0" fill="#fff"/><text x="123.6" y="196.3" font-size="11">SmC<tspan font-size="7" dy="2.2">A</tspan><tspan dy="-2" font-size="13">*</tspan><tspan dy="-0.2">, </tspan>375 K</text><rect x="92" y="80.3" width="22.3" height="7.7" fill="#fff"/><text x="93.2" y="86.4" font-size="6.3" font-weight="bold">100 µm</text><use href="#mrL" x="349.5" y="43.3"/><use href="#mgL" x="392" y="43.3"/><use href="#mbL" x="445.5" y="43.3"/><text x="365.3" y="46.6" font-size="11">red</text><text x="407.9" y="46.6" font-size="11">green</text><text x="461.3" y="46.6" font-size="11">blue</text><text x="485.5" y="46.6" font-size="11">-</text><text x="496" y="46.6" font-size="11">gray-scale</text><text x="433.2" y="87.3" font-size="11.5">gCr</text><text x="479.1" y="87.3" font-size="11.5">Cr</text><text transform="translate(519.3,104) rotate(-90)" font-size="10.8">SmC<tspan font-size="7.5" dy="2.5">A</tspan><tspan font-size="9" dx="-5.4" dy="-5.3">*</tspan></text><text transform="translate(537.4,90.8) rotate(-90)" font-size="11.5">Iso</text><rect x="370.7" y="132.5" width="55" height="16" fill="#000"/><rect x="368.7" y="130.5" width="55" height="16" fill="#fff" stroke="#999" stroke-width="0.6"/><text x="369.9" y="142.6" font-size="11">3F<tspan font-weight="bold">3</tspan>HPhH7</text><text x="457.8" y="199.6" font-size="11" font-style="italic">T</text><text x="463.3" y="202.3" font-size="7.5" font-style="italic">cc</text><text transform="translate(327.4,143.4) rotate(-90)" font-size="11.5"><tspan font-style="italic">I</tspan> [a.u.]</text><text x="433.2" y="236.8" font-size="11.5"><tspan font-style="italic">T</tspan> [K]</text><text x="110.3" y="280.3" font-size="12">(<tspan font-weight="bold">a</tspan>)</text><text x="422.4" y="280" font-size="12">(<tspan font-weight="bold">b</tspan>)</text></g></svg>
</body></html>
